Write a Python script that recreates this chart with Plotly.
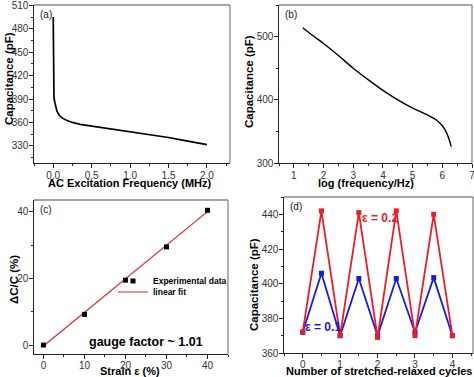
import plotly.graph_objects as go

# (a) capacitance vs AC excitation frequency
freq_mhz = [0.0, 0.001, 0.003, 0.006, 0.01, 0.02, 0.03, 0.05, 0.08, 0.12, 0.18, 0.25, 0.35, 0.5, 0.75, 1.0, 1.25, 1.5, 1.75, 2.0]
cap_a = [495, 460, 420, 400, 392, 386, 381, 374, 369, 365.5, 362.5, 360, 357.5, 355.3, 351.5, 348, 344.5, 340.7, 336, 331.5]

# (b) capacitance vs log frequency
log_f = [1.3, 1.6, 2.0, 2.5, 3.0, 3.5, 4.0, 4.5, 5.0, 5.5, 5.8, 6.0, 6.1, 6.2, 6.3]
cap_b = [514, 503, 489, 470, 450, 432, 415, 400, 387, 376, 368, 359, 352, 341, 326]

# (c) relative change vs strain
strain = [0, 10, 20, 30, 40]
dcc = [0.0, 9.2, 19.5, 29.5, 40.5]
fit_x = [0, 40]
fit_y = [-0.3, 40.1]

# (d) cycling
cycles = [0, 0.5, 1, 1.5, 2, 2.5, 3, 3.5, 4]
cap_e02 = [372, 442, 370, 441, 369, 442, 370, 440, 370]
cap_e01 = [372, 406, 370, 403, 370, 403, 372, 403.5, 370]

W, H = 474, 377
def dx(a, b):
    return [a / W, b / W]
def dy(top, bot):
    return [1 - bot / H, 1 - top / H]

FONT = "Liberation Sans, Arial, sans-serif"
fig = go.Figure()

fig.add_trace(go.Scatter(x=freq_mhz, y=cap_a, mode="lines", line=dict(color="black", width=1.7),
                         xaxis="x", yaxis="y", showlegend=False))
fig.add_trace(go.Scatter(x=log_f, y=cap_b, mode="lines", line=dict(color="black", width=1.4, shape="spline"),
                         xaxis="x2", yaxis="y2", showlegend=False))
fig.add_trace(go.Scatter(x=fit_x, y=fit_y, mode="lines", line=dict(color="#e8202a", width=1.2),
                         xaxis="x3", yaxis="y3", name="<b>linear fit</b>", legend="legend2"))
fig.add_trace(go.Scatter(x=strain, y=dcc, mode="markers", marker=dict(color="black", symbol="square", size=5),
                         xaxis="x3", yaxis="y3", name="<b>Experimental data</b>", legend="legend"))
fig.add_trace(go.Scatter(x=cycles, y=cap_e01, mode="lines+markers", line=dict(color="#1a1adf", width=1.8),
                         marker=dict(symbol="square", size=5, color="#1a1adf"),
                         xaxis="x4", yaxis="y4", showlegend=False))
fig.add_trace(go.Scatter(x=cycles, y=cap_e02, mode="lines+markers", line=dict(color="#ee1c24", width=1.8),
                         marker=dict(symbol="square", size=5, color="#ee1c24"),
                         xaxis="x4", yaxis="y4", showlegend=False))

def ax(domain, rng, dtick, minor, anchor, tickvals=None, standoff=-1):
    d = dict(domain=domain, range=rng, anchor=anchor, showgrid=False, zeroline=False, automargin=False,
             showline=True, linecolor="#222", linewidth=1.3, mirror=False,
             ticks="outside", ticklen=3.5, tickwidth=1, tickcolor="#222", ticklabelstandoff=standoff,
             ticklabeloverflow="allow",
             tickfont=dict(family=FONT, size=10, color="#333"),
             minor=dict(ticks="outside", ticklen=2.2, tickcolor="#222", dtick=minor, tick0=0, showgrid=False))
    if tickvals is not None:
        d["tickmode"] = "array"
        d["tickvals"] = tickvals
        d["minor"]["tickmode"] = "linear"
    else:
        d["dtick"] = dtick
        d["tick0"] = 0
    return d

def legend_at(px, py):
    return dict(x=px / W, y=1 - py / H, xanchor="left", yanchor="middle", bgcolor="rgba(0,0,0,0)",
                font=dict(family=FONT, size=8.5, color="black"), itemwidth=30, tracegroupgap=0)

layout = dict(
    width=W, height=H, margin=dict(l=0, r=0, t=0, b=0),
    paper_bgcolor="white", plot_bgcolor="white",
    font=dict(family=FONT, color="black"),
    xaxis=ax(dx(34, 230), [-0.25, 2.3], 0.5, 0.25, "y", tickvals=[0, 0.5, 1.0, 1.5, 2.0]),
    yaxis=ax(dy(5, 163), [308, 510.5], 30, 15, "x"),
    xaxis2=ax(dx(279, 472), [0.5, 7], 1, 0.5, "y2"),
    yaxis2=ax(dy(5, 163), [300, 550], 100, 50, "x2"),
    xaxis3=ax(dx(34, 228), [-2.3, 45], 10, 5, "y3", standoff=-2),
    yaxis3=ax(dy(200, 354), [-2.7, 43.6], 20, 10, "x3"),
    xaxis4=ax(dx(284, 473), [-0.5, 4.55], 1, 0.5, "y4", standoff=-2),
    yaxis4=ax(dy(197, 353), [360, 450], 20, 10, "x4"),
    legend=legend_at(113, 281),
    legend2=legend_at(113, 292),
)
layout["xaxis"]["tickformat"] = ".1f"
fig.update_layout(**layout)

# gray top/right frame lines
for xr, yr in [("x", "y"), ("x2", "y2"), ("x3", "y3"), ("x4", "y4")]:
    fig.add_shape(type="line", xref=f"{xr} domain", yref=f"{yr} domain", x0=0, x1=1, y0=1, y1=1,
                  line=dict(color="#888", width=1.3))
    fig.add_shape(type="line", xref=f"{xr} domain", yref=f"{yr} domain", x0=1, x1=1, y0=0, y1=1,
                  line=dict(color="#888", width=1.3))

labels = [("x domain", "y domain", "(a)"), ("x2 domain", "y2 domain", "(b)"),
          ("x3 domain", "y3 domain", "(c)"), ("x4 domain", "y4 domain", "(d)")]
for xr, yr, t in labels:
    fig.add_annotation(xref=xr, yref=yr, x=0.02, y=0.99, xanchor="left", yanchor="top", text=t,
                       showarrow=False, font=dict(family=FONT, size=10, color="#222"))

# axis titles (pixel-positioned)
def title(text, px, py, size=11, rot=0):
    fig.add_annotation(xref="paper", yref="paper", x=px / W, y=1 - py / H, text=f"<b>{text}</b>",
                       showarrow=False, textangle=rot, xanchor="center", yanchor="middle",
                       font=dict(family=FONT, size=size, color="black"))

title("AC Excitation Frequency (MHz)", 130, 183)
title("Capacitance (pF)", 9, 79, size=11.5, rot=-90)
title("log (frequency/Hz)", 366, 183)
title("Capacitance (pF)", 249, 82, size=11.5, rot=-90)
title("Strain ε (%)", 130, 371.3)
title("ΔC/C (%)", 14, 280, size=11.5, rot=-90)
title("Number of stretched-relaxed cycles", 379, 371)
title("Capacitance (pF)", 254, 285, size=11.5, rot=-90)

fig.add_annotation(xref="x3", yref="y3", x=25, y=1.0, text="<b>gauge factor ~ 1.01</b>", showarrow=False,
                   font=dict(family=FONT, size=12.5, color="black"))
fig.add_annotation(xref="x4", yref="y4", x=1.52, y=438, text="<b>ε = 0.2</b>", showarrow=False, xanchor="left",
                   font=dict(family=FONT, size=12, color="#ee1c24"))
fig.add_annotation(xref="x4", yref="y4", x=0.02, y=375, text="<b>ε = 0.1</b>", showarrow=False, xanchor="left",
                   font=dict(family=FONT, size=12, color="#1a1adf"))

fig.write_html("out.html", config={"displayModeBar": False},
               post_script="document.body.style.margin='0px';document.body.style.overflow='hidden';")
